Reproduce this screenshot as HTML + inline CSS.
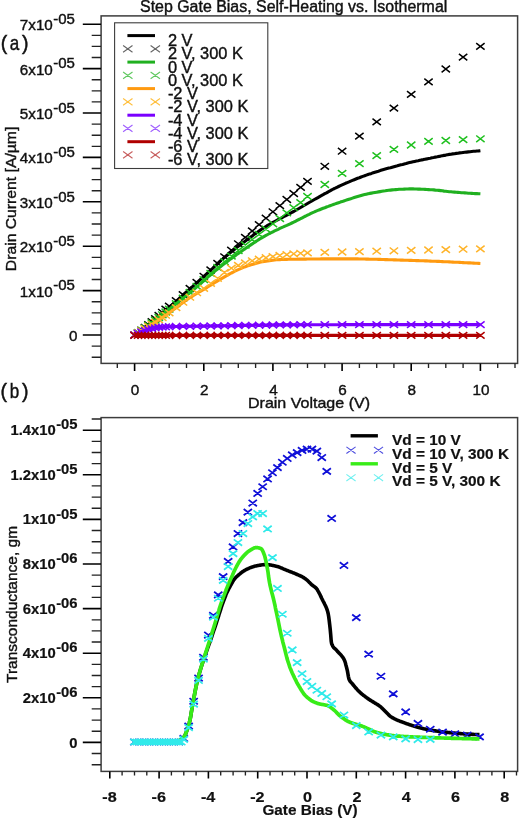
<!DOCTYPE html>
<html><head><meta charset="utf-8"><title>Step Gate Bias, Self-Heating vs. Isothermal</title>
<style>
html,body{margin:0;padding:0;background:#fff;width:520px;height:820px;overflow:hidden}
svg{display:block}
text{stroke:#111;stroke-width:.4px}
g[font-weight=bold] text{stroke-width:.2px}
</style></head><body>
<svg width="520" height="820" viewBox="0 0 520 820">
<rect width="520" height="820" fill="#fff"/>
<rect x="101.1" y="15.9" width="416.5" height="347.5" fill="none" stroke="#3c3c3c" stroke-width="1.5"/>
<path d="M82.8 335.0H101M82.8 290.6H101M82.8 246.2H101M82.8 201.8H101M82.8 157.4H101M82.8 113.0H101M82.8 68.6H101M82.8 24.2H101M134.6 363.5V371M203.8 363.5V371M272.9 363.5V371M342.1 363.5V371M411.2 363.5V371M480.4 363.5V371" stroke="#000" stroke-width="1.6" fill="none"/>
<path d="M91.7 357.2H101M91.7 346.1H101M91.7 323.9H101M91.7 312.8H101M91.7 301.7H101M91.7 279.5H101M91.7 268.4H101M91.7 257.3H101M91.7 235.1H101M91.7 224.0H101M91.7 212.9H101M91.7 190.7H101M91.7 179.6H101M91.7 168.5H101M91.7 146.3H101M91.7 135.2H101M91.7 124.1H101M91.7 101.9H101M91.7 90.8H101M91.7 79.7H101M91.7 57.5H101M91.7 46.4H101M91.7 35.3H101M117.3 363.5V368M151.9 363.5V368M169.2 363.5V368M186.5 363.5V368M221.0 363.5V368M238.3 363.5V368M255.6 363.5V368M290.2 363.5V368M307.5 363.5V368M324.8 363.5V368M359.4 363.5V368M376.7 363.5V368M393.9 363.5V368M428.5 363.5V368M445.8 363.5V368M463.1 363.5V368M497.7 363.5V368M515.0 363.5V368" stroke="#222" stroke-width="1.35" fill="none"/>
<g font-family="Liberation Sans, Arial, sans-serif" fill="#111">
<text x="77.5" y="341.0" font-size="15.2" text-anchor="end">0</text>
<text x="52.8" y="296.6" font-size="15.2" text-anchor="end">1x10</text><text x="53.2" y="290.4" font-size="15">-05</text>
<text x="52.8" y="252.2" font-size="15.2" text-anchor="end">2x10</text><text x="53.2" y="246.0" font-size="15">-05</text>
<text x="52.8" y="207.8" font-size="15.2" text-anchor="end">3x10</text><text x="53.2" y="201.6" font-size="15">-05</text>
<text x="52.8" y="163.4" font-size="15.2" text-anchor="end">4x10</text><text x="53.2" y="157.2" font-size="15">-05</text>
<text x="52.8" y="119.0" font-size="15.2" text-anchor="end">5x10</text><text x="53.2" y="112.8" font-size="15">-05</text>
<text x="52.8" y="74.6" font-size="15.2" text-anchor="end">6x10</text><text x="53.2" y="68.4" font-size="15">-05</text>
<text x="52.8" y="30.2" font-size="15.2" text-anchor="end">7x10</text><text x="53.2" y="24.0" font-size="15">-05</text>
<text x="135.1" y="394.8" font-size="15.3" text-anchor="middle">0</text>
<text x="204.3" y="394.8" font-size="15.3" text-anchor="middle">2</text>
<text x="273.4" y="394.8" font-size="15.3" text-anchor="middle">4</text>
<text x="342.6" y="394.8" font-size="15.3" text-anchor="middle">6</text>
<text x="411.7" y="394.8" font-size="15.3" text-anchor="middle">8</text>
<text x="480.9" y="394.8" font-size="15.3" text-anchor="middle">10</text>
</g>
<text x="140.0" y="12.0" font-family="Liberation Sans, Arial, sans-serif" font-size="15.6" textLength="307.3" lengthAdjust="spacingAndGlyphs" fill="#111">Step Gate Bias, Self-Heating vs. Isothermal</text>
<text x="248.0" y="408.4" font-family="Liberation Sans, Arial, sans-serif" font-size="15.0" textLength="122.0" lengthAdjust="spacingAndGlyphs" fill="#111">Drain Voltage (V)</text>
<text transform="translate(15.8 271.2) rotate(-90)" font-family="Liberation Sans, Arial, sans-serif" font-size="15.5" textLength="144.5" lengthAdjust="spacingAndGlyphs" fill="#111">Drain Current [A/µm]</text>
<g font-family="Liberation Sans, Arial, sans-serif" fill="#111" style="stroke-width:.45px"><text x="0.7" y="49.6" font-size="19.5" style="stroke-width:.45px">(</text><text transform="translate(9.8 49.6) scale(0.85 1)" font-size="20" style="stroke-width:.45px">a</text><text x="22.1" y="49.6" font-size="19.5" style="stroke-width:.45px">)</text></g>
<polyline points="134.6,335.0 136.3,333.7 138.1,332.4 139.8,331.1 141.5,329.8 143.2,328.4 145.0,327.1 146.7,325.8 148.4,324.4 150.2,323.1 151.9,321.7 153.6,320.3 155.3,318.9 157.1,317.5 158.8,316.1 160.5,314.7 162.3,313.3 164.0,311.9 165.7,310.4 167.5,308.9 169.2,307.5 170.9,306.0 172.6,304.5 174.4,302.9 176.1,301.4 177.8,299.8 179.6,298.2 181.3,296.6 183.0,295.1 184.7,293.5 186.5,291.9 188.2,290.4 189.9,288.8 191.7,287.3 193.4,285.8 195.1,284.2 196.8,282.7 198.6,281.2 200.3,279.6 202.0,278.1 203.8,276.5 205.5,275.0 207.2,273.4 208.9,271.8 210.7,270.2 212.4,268.6 214.1,266.9 215.9,265.3 217.6,263.6 219.3,262.0 221.0,260.4 222.8,258.9 224.5,257.4 226.2,256.0 228.0,254.5 229.7,253.1 231.4,251.7 233.2,250.4 234.9,249.0 236.6,247.6 238.3,246.3 240.1,245.0 241.8,243.7 243.5,242.4 245.3,241.1 247.0,239.8 248.7,238.5 250.4,237.2 252.2,235.9 253.9,234.6 255.6,233.4 257.4,232.2 259.1,231.0 260.8,229.8 262.5,228.7 264.3,227.6 266.0,226.5 267.7,225.4 269.5,224.4 271.2,223.4 272.9,222.4 274.6,221.5 276.4,220.5 278.1,219.6 279.8,218.7 281.6,217.8 283.3,216.9 285.0,216.0 286.8,215.1 288.5,214.3 290.2,213.3 291.9,212.4 293.7,211.5 295.4,210.5 297.1,209.5 298.9,208.5 300.6,207.5 302.3,206.5 304.0,205.5 305.8,204.5 307.5,203.5 309.2,202.5 311.0,201.5 312.7,200.5 314.4,199.5 316.1,198.6 317.9,197.6 319.6,196.6 321.3,195.7 323.1,194.7 324.8,193.7 326.5,192.8 328.2,191.8 330.0,190.9 331.7,189.9 333.4,189.0 335.2,188.2 336.9,187.3 338.6,186.5 340.4,185.7 342.1,184.9 343.8,184.1 345.5,183.3 347.3,182.6 349.0,181.9 350.7,181.1 352.5,180.4 354.2,179.7 355.9,179.0 357.6,178.3 359.4,177.7 361.1,177.0 362.8,176.4 364.6,175.8 366.3,175.1 368.0,174.5 369.7,173.9 371.5,173.4 373.2,172.8 374.9,172.2 376.7,171.7 378.4,171.2 380.1,170.6 381.8,170.1 383.6,169.6 385.3,169.1 387.0,168.6 388.8,168.1 390.5,167.7 392.2,167.2 393.9,166.7 395.7,166.2 397.4,165.8 399.1,165.3 400.9,164.8 402.6,164.4 404.3,163.9 406.1,163.5 407.8,163.0 409.5,162.6 411.2,162.2 413.0,161.8 414.7,161.4 416.4,161.0 418.2,160.7 419.9,160.3 421.6,159.9 423.3,159.6 425.1,159.2 426.8,158.9 428.5,158.5 430.3,158.2 432.0,157.8 433.7,157.5 435.4,157.1 437.2,156.8 438.9,156.4 440.6,156.1 442.4,155.7 444.1,155.4 445.8,155.1 447.5,154.7 449.3,154.4 451.0,154.2 452.7,153.9 454.5,153.7 456.2,153.4 457.9,153.2 459.7,152.9 461.4,152.7 463.1,152.5 464.8,152.3 466.6,152.1 468.3,151.9 470.0,151.7 471.8,151.5 473.5,151.3 475.2,151.2 476.9,151.0 478.7,150.9 480.4,150.7" fill="none" stroke="#000000" stroke-width="3.1" stroke-linejoin="round" stroke-linecap="butt"/>
<path d="M130.4 331.7L138.8 338.3M130.4 338.3L138.8 331.7M133.9 329.3L142.3 335.9M133.9 335.9L142.3 329.3M137.3 326.8L145.7 333.4M137.3 333.4L145.7 326.8M140.8 324.2L149.2 330.8M140.8 330.8L149.2 324.2M144.2 321.3L152.6 327.9M144.2 327.9L152.6 321.3M147.7 318.3L156.1 324.9M147.7 324.9L156.1 318.3M151.1 315.3L159.5 321.9M151.1 321.9L159.5 315.3M154.6 312.2L163.0 318.8M154.6 318.8L163.0 312.2M158.1 309.0L166.5 315.6M158.1 315.6L166.5 309.0M161.5 305.8L169.9 312.4M161.5 312.4L169.9 305.8M165.0 302.8L173.4 309.4M165.0 309.4L173.4 302.8M171.9 297.4L180.3 304.0M171.9 304.0L180.3 297.4M178.8 291.3L187.2 297.9M178.8 297.9L187.2 291.3M185.7 285.2L194.1 291.8M185.7 291.8L194.1 285.2M192.6 279.1L201.0 285.7M192.6 285.7L201.0 279.1M199.6 273.0L208.0 279.6M199.6 279.6L208.0 273.0M206.5 266.7L214.9 273.3M206.5 273.3L214.9 266.7M213.4 260.1L221.8 266.7M213.4 266.7L221.8 260.1M220.3 253.5L228.7 260.1M220.3 260.1L228.7 253.5M227.2 246.9L235.6 253.5M227.2 253.5L235.6 246.9M234.1 240.5L242.5 247.1M234.1 247.1L242.5 240.5M241.1 234.1L249.5 240.7M241.1 240.7L249.5 234.1M248.0 227.7L256.4 234.3M248.0 234.3L256.4 227.7M254.9 221.3L263.3 227.9M254.9 227.9L263.3 221.3M261.8 214.9L270.2 221.5M261.8 221.5L270.2 214.9M268.7 208.5L277.1 215.1M268.7 215.1L277.1 208.5M275.6 202.3L284.0 208.9M275.6 208.9L284.0 202.3M282.6 196.2L291.0 202.8M282.6 202.8L291.0 196.2M289.5 190.2L297.9 196.8M289.5 196.8L297.9 190.2M296.4 184.1L304.8 190.7M296.4 190.7L304.8 184.1M303.3 178.1L311.7 184.7M303.3 184.7L311.7 178.1M320.6 163.0L329.0 169.6M320.6 169.6L329.0 163.0M337.9 147.9L346.3 154.5M337.9 154.5L346.3 147.9M355.2 132.8L363.6 139.4M355.2 139.4L363.6 132.8M372.5 118.6L380.9 125.2M372.5 125.2L380.9 118.6M389.7 104.8L398.1 111.4M389.7 111.4L398.1 104.8M407.0 91.1L415.4 97.7M407.0 97.7L415.4 91.1M424.3 78.6L432.7 85.2M424.3 85.2L432.7 78.6M441.6 65.7L450.0 72.3M441.6 72.3L450.0 65.7M458.9 53.8L467.3 60.4M458.9 60.4L467.3 53.8M476.2 43.1L484.6 49.7M476.2 49.7L484.6 43.1" stroke="#000000" stroke-width="1.5" fill="none"/>
<polyline points="134.6,335.0 136.3,333.9 138.1,332.7 139.8,331.5 141.5,330.3 143.2,329.1 145.0,327.9 146.7,326.7 148.4,325.4 150.2,324.1 151.9,322.8 153.6,321.5 155.3,320.2 157.1,318.8 158.8,317.5 160.5,316.1 162.3,314.7 164.0,313.4 165.7,312.0 167.5,310.6 169.2,309.2 170.9,307.9 172.6,306.5 174.4,305.2 176.1,303.8 177.8,302.4 179.6,301.1 181.3,299.7 183.0,298.3 184.7,296.9 186.5,295.5 188.2,294.1 189.9,292.7 191.7,291.3 193.4,289.8 195.1,288.4 196.8,286.9 198.6,285.4 200.3,283.9 202.0,282.3 203.8,280.8 205.5,279.3 207.2,277.7 208.9,276.2 210.7,274.8 212.4,273.3 214.1,271.8 215.9,270.4 217.6,269.0 219.3,267.5 221.0,266.2 222.8,264.8 224.5,263.5 226.2,262.2 228.0,260.9 229.7,259.6 231.4,258.4 233.2,257.1 234.9,255.9 236.6,254.6 238.3,253.4 240.1,252.2 241.8,251.0 243.5,249.8 245.3,248.6 247.0,247.4 248.7,246.2 250.4,245.1 252.2,243.9 253.9,242.7 255.6,241.6 257.4,240.5 259.1,239.4 260.8,238.3 262.5,237.3 264.3,236.3 266.0,235.4 267.7,234.5 269.5,233.5 271.2,232.7 272.9,231.8 274.6,230.9 276.4,230.1 278.1,229.3 279.8,228.4 281.6,227.6 283.3,226.9 285.0,226.1 286.8,225.4 288.5,224.6 290.2,223.8 291.9,223.0 293.7,222.2 295.4,221.3 297.1,220.4 298.9,219.5 300.6,218.7 302.3,217.8 304.0,216.9 305.8,216.0 307.5,215.1 309.2,214.3 311.0,213.4 312.7,212.6 314.4,211.9 316.1,211.1 317.9,210.4 319.6,209.7 321.3,209.0 323.1,208.3 324.8,207.7 326.5,207.0 328.2,206.4 330.0,205.7 331.7,205.1 333.4,204.5 335.2,203.9 336.9,203.3 338.6,202.7 340.4,202.1 342.1,201.6 343.8,201.0 345.5,200.4 347.3,199.8 349.0,199.2 350.7,198.7 352.5,198.1 354.2,197.5 355.9,197.0 357.6,196.5 359.4,196.0 361.1,195.5 362.8,195.0 364.6,194.6 366.3,194.2 368.0,193.8 369.7,193.4 371.5,193.1 373.2,192.8 374.9,192.5 376.7,192.2 378.4,191.9 380.1,191.6 381.8,191.3 383.6,191.0 385.3,190.8 387.0,190.5 388.8,190.3 390.5,190.1 392.2,189.9 393.9,189.7 395.7,189.6 397.4,189.5 399.1,189.3 400.9,189.3 402.6,189.2 404.3,189.1 406.1,189.0 407.8,189.0 409.5,188.9 411.2,188.9 413.0,188.9 414.7,189.0 416.4,189.0 418.2,189.1 419.9,189.1 421.6,189.2 423.3,189.3 425.1,189.4 426.8,189.5 428.5,189.6 430.3,189.7 432.0,189.8 433.7,189.9 435.4,190.1 437.2,190.2 438.9,190.4 440.6,190.6 442.4,190.8 444.1,191.1 445.8,191.3 447.5,191.5 449.3,191.7 451.0,191.8 452.7,192.0 454.5,192.1 456.2,192.3 457.9,192.4 459.7,192.5 461.4,192.7 463.1,192.8 464.8,192.9 466.6,193.0 468.3,193.2 470.0,193.3 471.8,193.4 473.5,193.5 475.2,193.6 476.9,193.6 478.7,193.7 480.4,193.8" fill="none" stroke="#20b020" stroke-width="3.1" stroke-linejoin="round" stroke-linecap="butt"/>
<path d="M130.4 331.7L138.8 338.3M130.4 338.3L138.8 331.7M133.9 329.4L142.3 336.0M133.9 336.0L142.3 329.4M137.3 327.0L145.7 333.6M137.3 333.6L145.7 327.0M140.8 324.6L149.2 331.2M140.8 331.2L149.2 324.6M144.2 322.1L152.6 328.7M144.2 328.7L152.6 322.1M147.7 319.6L156.1 326.2M147.7 326.2L156.1 319.6M151.1 316.9L159.5 323.5M151.1 323.5L159.5 316.9M154.6 314.2L163.0 320.8M154.6 320.8L163.0 314.2M158.1 311.5L166.5 318.1M158.1 318.1L166.5 311.5M161.5 308.7L169.9 315.3M161.5 315.3L169.9 308.7M165.0 305.9L173.4 312.5M165.0 312.5L173.4 305.9M171.9 300.4L180.3 307.0M171.9 307.0L180.3 300.4M178.8 294.9L187.2 301.5M178.8 301.5L187.2 294.9M185.7 289.1L194.1 295.7M185.7 295.7L194.1 289.1M192.6 283.0L201.0 289.6M192.6 289.6L201.0 283.0M199.6 276.4L208.0 283.0M199.6 283.0L208.0 276.4M206.5 270.1L214.9 276.7M206.5 276.7L214.9 270.1M213.4 264.2L221.8 270.8M213.4 270.8L221.8 264.2M220.3 258.4L228.7 265.0M220.3 265.0L228.7 258.4M227.2 252.8L235.6 259.4M227.2 259.4L235.6 252.8M234.1 247.2L242.5 253.8M234.1 253.8L242.5 247.2M241.1 241.7L249.5 248.3M241.1 248.3L249.5 241.7M248.0 236.3L256.4 242.9M248.0 242.9L256.4 236.3M254.9 231.1L263.3 237.7M254.9 237.7L263.3 231.1M261.8 225.8L270.2 232.4M261.8 232.4L270.2 225.8M268.7 220.5L277.1 227.1M268.7 227.1L277.1 220.5M275.6 215.2L284.0 221.8M275.6 221.8L284.0 215.2M282.6 209.6L291.0 216.2M282.6 216.2L291.0 209.6M289.5 204.4L297.9 211.0M289.5 211.0L297.9 204.4M296.4 199.3L304.8 205.9M296.4 205.9L304.8 199.3M303.3 193.2L311.7 199.8M303.3 199.8L311.7 193.2M320.6 181.2L329.0 187.8M320.6 187.8L329.0 181.2M337.9 170.1L346.3 176.7M337.9 176.7L346.3 170.1M355.2 160.3L363.6 166.9M355.2 166.9L363.6 160.3M372.5 152.3L380.9 158.9M372.5 158.9L380.9 152.3M389.7 146.1L398.1 152.7M389.7 152.7L398.1 146.1M407.0 141.7L415.4 148.3M407.0 148.3L415.4 141.7M424.3 138.1L432.7 144.7M424.3 144.7L432.7 138.1M441.6 137.2L450.0 143.8M441.6 143.8L450.0 137.2M458.9 136.3L467.3 142.9M458.9 142.9L467.3 136.3M476.2 135.5L484.6 142.1M476.2 142.1L484.6 135.5" stroke="#20c020" stroke-width="1.5" fill="none"/>
<polyline points="134.6,335.0 136.3,334.0 138.1,332.9 139.8,331.9 141.5,330.8 143.2,329.8 145.0,328.7 146.7,327.6 148.4,326.5 150.2,325.4 151.9,324.3 153.6,323.2 155.3,322.1 157.1,321.0 158.8,319.8 160.5,318.7 162.3,317.5 164.0,316.4 165.7,315.2 167.5,314.0 169.2,312.8 170.9,311.6 172.6,310.3 174.4,309.0 176.1,307.7 177.8,306.4 179.6,305.1 181.3,303.8 183.0,302.5 184.7,301.2 186.5,300.0 188.2,298.8 189.9,297.7 191.7,296.6 193.4,295.5 195.1,294.4 196.8,293.4 198.6,292.3 200.3,291.3 202.0,290.3 203.8,289.3 205.5,288.3 207.2,287.3 208.9,286.2 210.7,285.2 212.4,284.1 214.1,283.0 215.9,282.0 217.6,280.9 219.3,279.9 221.0,278.9 222.8,277.9 224.5,276.9 226.2,275.9 228.0,274.9 229.7,273.9 231.4,273.0 233.2,272.1 234.9,271.2 236.6,270.4 238.3,269.6 240.1,268.9 241.8,268.1 243.5,267.4 245.3,266.8 247.0,266.1 248.7,265.5 250.4,265.0 252.2,264.4 253.9,263.9 255.6,263.4 257.4,263.0 259.1,262.5 260.8,262.1 262.5,261.7 264.3,261.4 266.0,261.1 267.7,260.9 269.5,260.6 271.2,260.4 272.9,260.2 274.6,260.0 276.4,259.8 278.1,259.7 279.8,259.6 281.6,259.5 283.3,259.5 285.0,259.4 286.8,259.4 288.5,259.3 290.2,259.3 291.9,259.2 293.7,259.2 295.4,259.2 297.1,259.2 298.9,259.1 300.6,259.1 302.3,259.1 304.0,259.1 305.8,259.1 307.5,259.0 309.2,259.0 311.0,259.0 312.7,259.0 314.4,259.0 316.1,259.0 317.9,259.0 319.6,259.0 321.3,258.9 323.1,258.9 324.8,258.9 326.5,258.9 328.2,258.9 330.0,258.9 331.7,258.9 333.4,258.9 335.2,258.9 336.9,258.9 338.6,258.9 340.4,258.9 342.1,258.9 343.8,258.9 345.5,258.9 347.3,258.9 349.0,258.9 350.7,258.9 352.5,258.9 354.2,258.9 355.9,258.9 357.6,258.9 359.4,259.0 361.1,259.0 362.8,259.0 364.6,259.0 366.3,259.1 368.0,259.1 369.7,259.2 371.5,259.2 373.2,259.2 374.9,259.3 376.7,259.3 378.4,259.4 380.1,259.4 381.8,259.5 383.6,259.5 385.3,259.6 387.0,259.6 388.8,259.7 390.5,259.7 392.2,259.8 393.9,259.9 395.7,259.9 397.4,260.0 399.1,260.0 400.9,260.1 402.6,260.1 404.3,260.2 406.1,260.2 407.8,260.3 409.5,260.4 411.2,260.4 413.0,260.5 414.7,260.5 416.4,260.6 418.2,260.6 419.9,260.7 421.6,260.8 423.3,260.8 425.1,260.9 426.8,260.9 428.5,261.0 430.3,261.1 432.0,261.2 433.7,261.2 435.4,261.3 437.2,261.4 438.9,261.4 440.6,261.5 442.4,261.6 444.1,261.7 445.8,261.7 447.5,261.8 449.3,261.9 451.0,262.0 452.7,262.1 454.5,262.2 456.2,262.2 457.9,262.3 459.7,262.4 461.4,262.5 463.1,262.6 464.8,262.7 466.6,262.8 468.3,262.9 470.0,262.9 471.8,263.0 473.5,263.1 475.2,263.2 476.9,263.3 478.7,263.4 480.4,263.5" fill="none" stroke="#ff9a10" stroke-width="3.1" stroke-linejoin="round" stroke-linecap="butt"/>
<path d="M130.4 331.7L138.8 338.3M130.4 338.3L138.8 331.7M133.9 329.6L142.3 336.2M133.9 336.2L142.3 329.6M137.3 327.5L145.7 334.1M137.3 334.1L145.7 327.5M140.8 325.4L149.2 332.0M140.8 332.0L149.2 325.4M144.2 323.2L152.6 329.8M144.2 329.8L152.6 323.2M147.7 321.0L156.1 327.6M147.7 327.6L156.1 321.0M151.1 318.8L159.5 325.4M151.1 325.4L159.5 318.8M154.6 316.6L163.0 323.2M154.6 323.2L163.0 316.6M158.1 314.3L166.5 320.9M158.1 320.9L166.5 314.3M161.5 311.9L169.9 318.5M161.5 318.5L169.9 311.9M165.0 309.5L173.4 316.1M165.0 316.1L173.4 309.5M171.9 304.3L180.3 310.9M171.9 310.9L180.3 304.3M178.8 298.9L187.2 305.5M178.8 305.5L187.2 298.9M185.7 293.9L194.1 300.5M185.7 300.5L194.1 293.9M192.6 289.4L201.0 296.0M192.6 296.0L201.0 289.4M199.6 285.0L208.0 291.6M199.6 291.6L208.0 285.0M206.5 280.1L214.9 286.7M206.5 286.7L214.9 280.1M213.4 275.0L221.8 281.6M213.4 281.6L221.8 275.0M220.3 269.2L228.7 275.8M220.3 275.8L228.7 269.2M227.2 264.9L235.6 271.5M227.2 271.5L235.6 264.9M234.1 262.1L242.5 268.7M234.1 268.7L242.5 262.1M241.1 259.7L249.5 266.3M241.1 266.3L249.5 259.7M248.0 257.5L256.4 264.1M248.0 264.1L256.4 257.5M254.9 255.8L263.3 262.4M254.9 262.4L263.3 255.8M261.8 254.4L270.2 261.0M261.8 261.0L270.2 254.4M268.7 253.3L277.1 259.9M268.7 259.9L277.1 253.3M275.6 252.2L284.0 258.8M275.6 258.8L284.0 252.2M282.6 251.3L291.0 257.9M282.6 257.9L291.0 251.3M289.5 250.5L297.9 257.1M289.5 257.1L297.9 250.5M296.4 250.0L304.8 256.6M296.4 256.6L304.8 250.0M303.3 249.6L311.7 256.2M303.3 256.2L311.7 249.6M320.6 249.1L329.0 255.7M320.6 255.7L329.0 249.1M337.9 248.7L346.3 255.3M337.9 255.3L346.3 248.7M355.2 248.3L363.6 254.9M355.2 254.9L363.6 248.3M372.5 247.9L380.9 254.5M372.5 254.5L380.9 247.9M389.7 247.5L398.1 254.1M389.7 254.1L398.1 247.5M407.0 247.1L415.4 253.7M407.0 253.7L415.4 247.1M424.3 246.7L432.7 253.3M424.3 253.3L432.7 246.7M441.6 246.3L450.0 252.9M441.6 252.9L450.0 246.3M458.9 245.9L467.3 252.5M458.9 252.5L467.3 245.9M476.2 245.6L484.6 252.2M476.2 252.2L484.6 245.6" stroke="#ffb42a" stroke-width="1.5" fill="none"/>
<polyline points="134.6,335.0 136.3,334.2 138.1,333.4 139.8,332.6 141.5,331.9 143.2,331.2 145.0,330.6 146.7,330.0 148.4,329.4 150.2,329.0 151.9,328.6 153.6,328.2 155.3,327.9 157.1,327.6 158.8,327.4 160.5,327.2 162.3,327.1 164.0,327.0 165.7,326.9 167.5,326.8 169.2,326.7 170.9,326.7 172.6,326.6 174.4,326.6 176.1,326.5 177.8,326.5 179.6,326.5 181.3,326.4 183.0,326.4 184.7,326.4 186.5,326.3 188.2,326.3 189.9,326.3 191.7,326.2 193.4,326.2 195.1,326.2 196.8,326.2 198.6,326.1 200.3,326.1 202.0,326.1 203.8,326.1 205.5,326.0 207.2,326.0 208.9,326.0 210.7,326.0 212.4,325.9 214.1,325.9 215.9,325.9 217.6,325.9 219.3,325.8 221.0,325.8 222.8,325.8 224.5,325.8 226.2,325.7 228.0,325.7 229.7,325.7 231.4,325.6 233.2,325.6 234.9,325.6 236.6,325.6 238.3,325.5 240.1,325.5 241.8,325.5 243.5,325.5 245.3,325.4 247.0,325.4 248.7,325.4 250.4,325.3 252.2,325.3 253.9,325.3 255.6,325.3 257.4,325.3 259.1,325.2 260.8,325.2 262.5,325.2 264.3,325.2 266.0,325.1 267.7,325.1 269.5,325.1 271.2,325.1 272.9,325.0 274.6,325.0 276.4,325.0 278.1,325.0 279.8,324.9 281.6,324.9 283.3,324.9 285.0,324.9 286.8,324.9 288.5,324.8 290.2,324.8 291.9,324.8 293.7,324.8 295.4,324.8 297.1,324.7 298.9,324.7 300.6,324.7 302.3,324.7 304.0,324.7 305.8,324.7 307.5,324.7 309.2,324.7 311.0,324.7 312.7,324.7 314.4,324.7 316.1,324.7 317.9,324.7 319.6,324.7 321.3,324.7 323.1,324.7 324.8,324.7 326.5,324.7 328.2,324.7 330.0,324.7 331.7,324.7 333.4,324.7 335.2,324.7 336.9,324.7 338.6,324.7 340.4,324.6 342.1,324.6 343.8,324.6 345.5,324.6 347.3,324.6 349.0,324.6 350.7,324.6 352.5,324.6 354.2,324.6 355.9,324.6 357.6,324.6 359.4,324.6 361.1,324.6 362.8,324.6 364.6,324.6 366.3,324.6 368.0,324.6 369.7,324.6 371.5,324.6 373.2,324.6 374.9,324.6 376.7,324.6 378.4,324.6 380.1,324.6 381.8,324.6 383.6,324.6 385.3,324.6 387.0,324.6 388.8,324.6 390.5,324.6 392.2,324.6 393.9,324.6 395.7,324.6 397.4,324.6 399.1,324.6 400.9,324.6 402.6,324.6 404.3,324.6 406.1,324.6 407.8,324.6 409.5,324.6 411.2,324.6 413.0,324.6 414.7,324.6 416.4,324.6 418.2,324.6 419.9,324.6 421.6,324.6 423.3,324.6 425.1,324.6 426.8,324.6 428.5,324.6 430.3,324.6 432.0,324.6 433.7,324.6 435.4,324.6 437.2,324.6 438.9,324.6 440.6,324.6 442.4,324.6 444.1,324.6 445.8,324.6 447.5,324.6 449.3,324.6 451.0,324.6 452.7,324.6 454.5,324.6 456.2,324.6 457.9,324.6 459.7,324.6 461.4,324.6 463.1,324.6 464.8,324.6 466.6,324.6 468.3,324.6 470.0,324.6 471.8,324.6 473.5,324.6 475.2,324.6 476.9,324.6 478.7,324.6 480.4,324.6" fill="none" stroke="#7a00ff" stroke-width="3.1" stroke-linejoin="round" stroke-linecap="butt"/>
<path d="M130.4 331.7L138.8 338.3M130.4 338.3L138.8 331.7M133.9 330.1L142.3 336.7M133.9 336.7L142.3 330.1M137.3 328.6L145.7 335.2M137.3 335.2L145.7 328.6M140.8 327.3L149.2 333.9M140.8 333.9L149.2 327.3M144.2 326.1L152.6 332.8M144.2 332.8L152.6 326.1M147.7 325.3L156.1 331.9M147.7 331.9L156.1 325.3M151.1 324.6L159.5 331.2M151.1 331.2L159.5 324.6M154.6 324.1L163.0 330.7M154.6 330.7L163.0 324.1M158.1 323.8L166.5 330.4M158.1 330.4L166.5 323.8M161.5 323.6L169.9 330.2M161.5 330.2L169.9 323.6M165.0 323.4L173.4 330.0M165.0 330.0L173.4 323.4M171.9 323.2L180.3 329.8M171.9 329.8L180.3 323.2M178.8 323.1L187.2 329.7M178.8 329.7L187.2 323.1M185.7 323.0L194.1 329.6M185.7 329.6L194.1 323.0M192.6 322.9L201.0 329.5M192.6 329.5L201.0 322.9M199.6 322.8L208.0 329.4M199.6 329.4L208.0 322.8M206.5 322.7L214.9 329.3M206.5 329.3L214.9 322.7M213.4 322.6L221.8 329.2M213.4 329.2L221.8 322.6M220.3 322.5L228.7 329.1M220.3 329.1L228.7 322.5M227.2 322.3L235.6 328.9M227.2 328.9L235.6 322.3M234.1 322.2L242.5 328.8M234.1 328.8L242.5 322.2M241.1 322.1L249.5 328.7M241.1 328.7L249.5 322.1M248.0 322.0L256.4 328.6M248.0 328.6L256.4 322.0M254.9 321.9L263.3 328.5M254.9 328.5L263.3 321.9M261.8 321.8L270.2 328.4M261.8 328.4L270.2 321.8M268.7 321.7L277.1 328.3M268.7 328.3L277.1 321.7M275.6 321.6L284.0 328.2M275.6 328.2L284.0 321.6M282.6 321.6L291.0 328.2M282.6 328.2L291.0 321.6M289.5 321.5L297.9 328.1M289.5 328.1L297.9 321.5M296.4 321.4L304.8 328.0M296.4 328.0L304.8 321.4M303.3 321.4L311.7 328.0M303.3 328.0L311.7 321.4M320.6 321.4L329.0 328.0M320.6 328.0L329.0 321.4M337.9 321.3L346.3 327.9M337.9 327.9L346.3 321.3M355.2 321.3L363.6 327.9M355.2 327.9L363.6 321.3M372.5 321.3L380.9 327.9M372.5 327.9L380.9 321.3M389.7 321.3L398.1 327.9M389.7 327.9L398.1 321.3M407.0 321.3L415.4 327.9M407.0 327.9L415.4 321.3M424.3 321.3L432.7 327.9M424.3 327.9L432.7 321.3M441.6 321.3L450.0 327.9M441.6 327.9L450.0 321.3M458.9 321.3L467.3 327.9M458.9 327.9L467.3 321.3M476.2 321.3L484.6 327.9M476.2 327.9L484.6 321.3" stroke="#7a00ff" stroke-width="1.5" fill="none"/>
<polyline points="134.6,335.4 136.3,335.4 138.1,335.4 139.8,335.4 141.5,335.4 143.2,335.4 145.0,335.4 146.7,335.4 148.4,335.4 150.2,335.4 151.9,335.4 153.6,335.4 155.3,335.4 157.1,335.4 158.8,335.4 160.5,335.4 162.3,335.4 164.0,335.4 165.7,335.4 167.5,335.4 169.2,335.4 170.9,335.4 172.6,335.4 174.4,335.4 176.1,335.4 177.8,335.4 179.6,335.4 181.3,335.4 183.0,335.4 184.7,335.4 186.5,335.4 188.2,335.4 189.9,335.4 191.7,335.4 193.4,335.4 195.1,335.4 196.8,335.4 198.6,335.4 200.3,335.4 202.0,335.4 203.8,335.4 205.5,335.4 207.2,335.4 208.9,335.4 210.7,335.4 212.4,335.4 214.1,335.4 215.9,335.4 217.6,335.4 219.3,335.4 221.0,335.4 222.8,335.4 224.5,335.4 226.2,335.4 228.0,335.4 229.7,335.4 231.4,335.4 233.2,335.4 234.9,335.4 236.6,335.4 238.3,335.4 240.1,335.4 241.8,335.4 243.5,335.4 245.3,335.4 247.0,335.4 248.7,335.4 250.4,335.4 252.2,335.4 253.9,335.4 255.6,335.4 257.4,335.4 259.1,335.4 260.8,335.4 262.5,335.4 264.3,335.4 266.0,335.4 267.7,335.4 269.5,335.4 271.2,335.4 272.9,335.4 274.6,335.4 276.4,335.4 278.1,335.4 279.8,335.4 281.6,335.4 283.3,335.4 285.0,335.4 286.8,335.4 288.5,335.4 290.2,335.4 291.9,335.4 293.7,335.4 295.4,335.4 297.1,335.4 298.9,335.4 300.6,335.4 302.3,335.4 304.0,335.4 305.8,335.4 307.5,335.4 309.2,335.4 311.0,335.4 312.7,335.4 314.4,335.4 316.1,335.4 317.9,335.4 319.6,335.4 321.3,335.4 323.1,335.4 324.8,335.4 326.5,335.4 328.2,335.4 330.0,335.4 331.7,335.4 333.4,335.4 335.2,335.4 336.9,335.4 338.6,335.4 340.4,335.4 342.1,335.4 343.8,335.4 345.5,335.4 347.3,335.4 349.0,335.4 350.7,335.4 352.5,335.4 354.2,335.4 355.9,335.4 357.6,335.4 359.4,335.4 361.1,335.4 362.8,335.4 364.6,335.4 366.3,335.4 368.0,335.4 369.7,335.4 371.5,335.4 373.2,335.4 374.9,335.4 376.7,335.4 378.4,335.4 380.1,335.4 381.8,335.4 383.6,335.4 385.3,335.4 387.0,335.4 388.8,335.4 390.5,335.4 392.2,335.4 393.9,335.4 395.7,335.4 397.4,335.4 399.1,335.4 400.9,335.4 402.6,335.4 404.3,335.4 406.1,335.4 407.8,335.4 409.5,335.4 411.2,335.4 413.0,335.4 414.7,335.4 416.4,335.4 418.2,335.4 419.9,335.4 421.6,335.4 423.3,335.4 425.1,335.4 426.8,335.4 428.5,335.4 430.3,335.4 432.0,335.4 433.7,335.4 435.4,335.4 437.2,335.4 438.9,335.4 440.6,335.4 442.4,335.4 444.1,335.4 445.8,335.4 447.5,335.4 449.3,335.4 451.0,335.4 452.7,335.4 454.5,335.4 456.2,335.4 457.9,335.4 459.7,335.4 461.4,335.4 463.1,335.4 464.8,335.4 466.6,335.4 468.3,335.4 470.0,335.4 471.8,335.4 473.5,335.4 475.2,335.4 476.9,335.4 478.7,335.4 480.4,335.4" fill="none" stroke="#b00000" stroke-width="3.1" stroke-linejoin="round" stroke-linecap="butt"/>
<path d="M130.4 332.1L138.8 338.7M130.4 338.7L138.8 332.1M133.9 332.1L142.3 338.7M133.9 338.7L142.3 332.1M137.3 332.1L145.7 338.7M137.3 338.7L145.7 332.1M140.8 332.1L149.2 338.7M140.8 338.7L149.2 332.1M144.2 332.1L152.6 338.7M144.2 338.7L152.6 332.1M147.7 332.1L156.1 338.7M147.7 338.7L156.1 332.1M151.1 332.1L159.5 338.7M151.1 338.7L159.5 332.1M154.6 332.1L163.0 338.7M154.6 338.7L163.0 332.1M158.1 332.1L166.5 338.7M158.1 338.7L166.5 332.1M161.5 332.1L169.9 338.7M161.5 338.7L169.9 332.1M165.0 332.1L173.4 338.7M165.0 338.7L173.4 332.1M171.9 332.1L180.3 338.7M171.9 338.7L180.3 332.1M178.8 332.1L187.2 338.7M178.8 338.7L187.2 332.1M185.7 332.1L194.1 338.7M185.7 338.7L194.1 332.1M192.6 332.1L201.0 338.7M192.6 338.7L201.0 332.1M199.6 332.1L208.0 338.7M199.6 338.7L208.0 332.1M206.5 332.1L214.9 338.7M206.5 338.7L214.9 332.1M213.4 332.1L221.8 338.7M213.4 338.7L221.8 332.1M220.3 332.1L228.7 338.7M220.3 338.7L228.7 332.1M227.2 332.1L235.6 338.7M227.2 338.7L235.6 332.1M234.1 332.1L242.5 338.7M234.1 338.7L242.5 332.1M241.1 332.1L249.5 338.7M241.1 338.7L249.5 332.1M248.0 332.1L256.4 338.7M248.0 338.7L256.4 332.1M254.9 332.1L263.3 338.7M254.9 338.7L263.3 332.1M261.8 332.1L270.2 338.7M261.8 338.7L270.2 332.1M268.7 332.1L277.1 338.7M268.7 338.7L277.1 332.1M275.6 332.1L284.0 338.7M275.6 338.7L284.0 332.1M282.6 332.1L291.0 338.7M282.6 338.7L291.0 332.1M289.5 332.1L297.9 338.7M289.5 338.7L297.9 332.1M296.4 332.1L304.8 338.7M296.4 338.7L304.8 332.1M303.3 332.1L311.7 338.7M303.3 338.7L311.7 332.1M320.6 332.1L329.0 338.7M320.6 338.7L329.0 332.1M337.9 332.1L346.3 338.7M337.9 338.7L346.3 332.1M355.2 332.1L363.6 338.7M355.2 338.7L363.6 332.1M372.5 332.1L380.9 338.7M372.5 338.7L380.9 332.1M389.7 332.1L398.1 338.7M389.7 338.7L398.1 332.1M407.0 332.1L415.4 338.7M407.0 338.7L415.4 332.1M424.3 332.1L432.7 338.7M424.3 338.7L432.7 332.1M441.6 332.1L450.0 338.7M441.6 338.7L450.0 332.1M458.9 332.1L467.3 338.7M458.9 338.7L467.3 332.1M476.2 332.1L484.6 338.7M476.2 338.7L484.6 332.1" stroke="#b00000" stroke-width="1.5" fill="none"/>
<rect x="114.6" y="22.8" width="153.2" height="145.7" fill="#fff" stroke="#3c3c3c" stroke-width="1.1"/>
<g font-family="Liberation Sans, Arial, sans-serif" font-size="16.4" fill="#111">
<path d="M127.4 35.6H155" stroke="#000" stroke-width="3"/>
<text x="167.9" y="46.1">2 V</text>
<path d="M123.1 45.5L132.5 52.3M123.1 52.3L132.5 45.5M150.6 45.5L160.0 52.3M150.6 52.3L160.0 45.5" stroke="#666" stroke-width="1.1" fill="none"/>
<text x="167.9" y="59.4">2 V, 300 K</text>
<path d="M127.4 62.1H155" stroke="#20b020" stroke-width="3"/>
<text x="167.9" y="72.6">0 V</text>
<path d="M123.1 72.0L132.5 78.8M123.1 78.8L132.5 72.0M150.6 72.0L160.0 78.8M150.6 78.8L160.0 72.0" stroke="#60c860" stroke-width="1.1" fill="none"/>
<text x="167.9" y="85.9">0 V, 300 K</text>
<path d="M127.4 88.6H155" stroke="#ff9a10" stroke-width="3"/>
<text x="167.9" y="99.1">-2 V</text>
<path d="M123.1 98.5L132.5 105.3M123.1 105.3L132.5 98.5M150.6 98.5L160.0 105.3M150.6 105.3L160.0 98.5" stroke="#ffc040" stroke-width="1.1" fill="none"/>
<text x="167.9" y="112.4">-2 V, 300 K</text>
<path d="M127.4 115.2H155" stroke="#7a00ff" stroke-width="3"/>
<text x="167.9" y="125.7">-4 V</text>
<path d="M123.1 125.0L132.5 131.8M123.1 131.8L132.5 125.0M150.6 125.0L160.0 131.8M150.6 131.8L160.0 125.0" stroke="#a060ff" stroke-width="1.1" fill="none"/>
<text x="167.9" y="138.9">-4 V, 300 K</text>
<path d="M127.4 141.7H155" stroke="#b00000" stroke-width="3"/>
<text x="167.9" y="152.2">-6 V</text>
<path d="M123.1 151.5L132.5 158.3M123.1 158.3L132.5 151.5M150.6 151.5L160.0 158.3M150.6 158.3L160.0 151.5" stroke="#c86060" stroke-width="1.1" fill="none"/>
<text x="167.9" y="165.4">-6 V, 300 K</text>
</g>
<rect x="101.1" y="417.6" width="416.5" height="353.8" fill="none" stroke="#3c3c3c" stroke-width="1.5"/>
<path d="M82.8 742.4H101M82.8 697.8H101M82.8 653.2H101M82.8 608.6H101M82.8 564.0H101M82.8 519.4H101M82.8 474.8H101M82.8 430.2H101M109.8 771.5V778.5M159.1 771.5V778.5M208.4 771.5V778.5M257.7 771.5V778.5M307.0 771.5V778.5M356.3 771.5V778.5M405.6 771.5V778.5M454.9 771.5V778.5M504.2 771.5V778.5" stroke="#000" stroke-width="1.6" fill="none"/>
<path d="M91.7 764.7H101M91.7 753.5H101M91.7 731.2H101M91.7 720.1H101M91.7 708.9H101M91.7 686.6H101M91.7 675.5H101M91.7 664.4H101M91.7 642.0H101M91.7 630.9H101M91.7 619.8H101M91.7 597.4H101M91.7 586.3H101M91.7 575.1H101M91.7 552.8H101M91.7 541.7H101M91.7 530.5H101M91.7 508.2H101M91.7 497.1H101M91.7 485.9H101M91.7 463.6H101M91.7 452.5H101M91.7 441.3H101M91.7 419.0H101M122.1 771.5V775.6M134.5 771.5V775.6M146.8 771.5V775.6M171.4 771.5V775.6M183.8 771.5V775.6M196.1 771.5V775.6M220.7 771.5V775.6M233.1 771.5V775.6M245.4 771.5V775.6M270.0 771.5V775.6M282.4 771.5V775.6M294.7 771.5V775.6M319.3 771.5V775.6M331.6 771.5V775.6M344.0 771.5V775.6M368.6 771.5V775.6M380.9 771.5V775.6M393.3 771.5V775.6M417.9 771.5V775.6M430.2 771.5V775.6M442.6 771.5V775.6M467.2 771.5V775.6M479.5 771.5V775.6M491.9 771.5V775.6M516.5 771.5V775.6" stroke="#222" stroke-width="1.35" fill="none"/>
<g font-family="Liberation Sans, Arial, sans-serif" font-weight="bold" fill="#111">
<text x="77.5" y="747.7" font-size="14.8" text-anchor="end">0</text>
<text x="55.7" y="702.8" font-size="14.8" text-anchor="end">2x10</text><text x="56.2" y="696.9" font-size="14.8">-06</text>
<text x="55.7" y="658.2" font-size="14.8" text-anchor="end">4x10</text><text x="56.2" y="652.3" font-size="14.8">-06</text>
<text x="55.7" y="613.6" font-size="14.8" text-anchor="end">6x10</text><text x="56.2" y="607.7" font-size="14.8">-06</text>
<text x="55.7" y="569.0" font-size="14.8" text-anchor="end">8x10</text><text x="56.2" y="563.1" font-size="14.8">-06</text>
<text x="55.7" y="524.4" font-size="14.8" text-anchor="end">1x10</text><text x="56.2" y="518.5" font-size="14.8">-05</text>
<text x="55.7" y="479.8" font-size="14.8" text-anchor="end">1.2x10</text><text x="56.2" y="473.9" font-size="14.8">-05</text>
<text x="55.7" y="435.2" font-size="14.8" text-anchor="end">1.4x10</text><text x="56.2" y="429.3" font-size="14.8">-05</text>
<text transform="translate(109.5 801.6) scale(1.13 1)" font-size="14.3" text-anchor="middle">-8</text>
<text transform="translate(158.8 801.6) scale(1.13 1)" font-size="14.3" text-anchor="middle">-6</text>
<text transform="translate(208.1 801.6) scale(1.13 1)" font-size="14.3" text-anchor="middle">-4</text>
<text transform="translate(257.4 801.6) scale(1.13 1)" font-size="14.3" text-anchor="middle">-2</text>
<text transform="translate(307.6 801.6) scale(1.13 1)" font-size="14.3" text-anchor="middle">0</text>
<text transform="translate(356.9 801.6) scale(1.13 1)" font-size="14.3" text-anchor="middle">2</text>
<text transform="translate(406.2 801.6) scale(1.13 1)" font-size="14.3" text-anchor="middle">4</text>
<text transform="translate(455.5 801.6) scale(1.13 1)" font-size="14.3" text-anchor="middle">6</text>
<text transform="translate(504.8 801.6) scale(1.13 1)" font-size="14.3" text-anchor="middle">8</text>
<text x="262.4" y="815" font-size="15.3">Gate Bias (V)</text>
</g>
<text transform="translate(17.2 683) rotate(-90)" font-family="Liberation Sans, Arial, sans-serif" font-size="15.5" fill="#111">Transconductance, gm</text>
<g font-family="Liberation Sans, Arial, sans-serif" fill="#111"><text x="0.6" y="398.4" font-size="19.5" style="stroke-width:.45px">(</text><text transform="translate(9.65 398.4) scale(0.85 1)" font-size="20" style="stroke-width:.45px">b</text><text x="22.1" y="398.4" font-size="19.5" style="stroke-width:.45px">)</text></g>
<polyline points="134.5,742.0 134.9,742.0 135.4,742.0 135.9,742.0 136.4,742.0 136.9,742.0 137.4,742.0 137.9,742.0 138.4,742.0 138.9,742.0 139.4,742.0 139.9,742.0 140.4,742.0 140.9,742.0 141.4,742.0 141.8,742.0 142.3,742.0 142.8,742.0 143.3,742.0 143.8,742.0 144.3,742.0 144.8,742.0 145.3,742.0 145.8,742.0 146.3,742.0 146.8,742.0 147.3,742.0 147.8,742.0 148.3,742.0 148.7,742.0 149.2,742.0 149.7,742.0 150.2,742.0 150.7,742.0 151.2,742.0 151.7,742.0 152.2,742.0 152.7,742.0 153.2,742.0 153.7,742.0 154.2,742.0 154.7,742.0 155.2,742.0 155.6,742.0 156.1,742.0 156.6,742.0 157.1,742.0 157.6,742.0 158.1,742.0 158.6,742.0 159.1,742.0 159.6,742.0 160.1,742.0 160.6,742.0 161.1,742.0 161.6,742.0 162.1,742.0 162.6,742.0 163.0,742.0 163.5,742.0 164.0,742.0 164.5,742.0 165.0,742.0 165.5,742.0 166.0,742.0 166.5,742.0 167.0,742.0 167.5,742.0 168.0,742.0 168.5,742.0 169.0,742.0 169.5,742.0 169.9,742.0 170.4,742.0 170.9,741.9 171.4,741.9 171.9,741.9 172.4,741.8 172.9,741.8 173.4,741.7 173.9,741.7 174.4,741.6 174.9,741.5 175.4,741.5 175.9,741.4 176.4,741.3 176.8,741.2 177.3,741.1 177.8,741.0 178.3,740.8 178.8,740.6 179.3,740.4 179.8,740.2 180.3,739.9 180.8,739.6 181.3,739.3 181.8,738.9 182.3,738.6 182.8,738.2 183.3,737.8 183.8,737.3 184.2,736.6 184.7,735.7 185.2,734.8 185.7,733.7 186.2,732.4 186.7,731.1 187.2,729.7 187.7,728.2 188.2,726.6 188.7,725.0 189.2,723.3 189.7,721.3 190.2,719.0 190.7,716.4 191.1,713.6 191.6,710.7 192.1,707.8 192.6,705.0 193.1,702.3 193.6,699.6 194.1,696.9 194.6,694.1 195.1,691.4 195.6,688.8 196.1,686.3 196.6,684.0 197.1,682.0 197.6,680.0 198.0,678.1 198.5,676.2 199.0,674.5 199.5,672.7 200.0,671.1 200.5,669.4 201.0,667.8 201.5,666.2 202.0,664.6 202.5,663.1 203.0,661.6 203.5,660.2 204.0,658.8 204.5,657.4 204.9,656.0 205.4,654.6 205.9,653.1 206.4,651.7 206.9,650.3 207.4,648.9 207.9,647.5 208.4,646.1 208.9,644.7 209.4,643.3 209.9,641.9 210.4,640.5 210.9,639.1 211.4,637.7 211.9,636.3 212.3,634.9 212.8,633.4 213.3,632.0 213.8,630.5 214.3,629.1 214.8,627.6 215.3,626.1 215.8,624.6 216.3,623.1 216.8,621.5 217.3,620.0 217.8,618.5 218.3,616.9 218.8,615.4 219.2,613.9 219.7,612.4 220.2,610.9 220.7,609.4 221.2,607.8 221.7,606.3 222.2,604.8 222.7,603.4 223.2,602.0 223.7,600.7 224.2,599.3 224.7,598.0 225.2,596.8 225.7,595.5 226.1,594.3 226.6,593.2 227.1,592.1 227.6,591.1 228.1,590.1 228.6,589.1 229.1,588.2 229.6,587.3 230.1,586.4 230.6,585.5 231.1,584.6 231.6,583.7 232.1,582.8 232.6,581.9 233.1,581.1 233.5,580.3 234.0,579.6 234.5,579.0 235.0,578.4 235.5,577.8 236.0,577.3 236.5,576.8 237.0,576.3 237.5,575.9 238.0,575.4 238.5,575.0 239.0,574.6 239.5,574.2 240.0,573.8 240.4,573.4 240.9,573.0 241.4,572.6 241.9,572.2 242.4,571.9 242.9,571.5 243.4,571.2 243.9,570.9 244.4,570.6 244.9,570.3 245.4,570.0 245.9,569.7 246.4,569.5 246.9,569.2 247.3,569.0 247.8,568.8 248.3,568.6 248.8,568.3 249.3,568.1 249.8,567.9 250.3,567.7 250.8,567.5 251.3,567.3 251.8,567.2 252.3,567.0 252.8,566.8 253.3,566.7 253.8,566.5 254.2,566.4 254.7,566.2 255.2,566.1 255.7,566.0 256.2,565.9 256.7,565.8 257.2,565.7 257.7,565.6 258.2,565.5 258.7,565.4 259.2,565.3 259.7,565.2 260.2,565.1 260.7,565.1 261.2,565.0 261.6,564.9 262.1,564.8 262.6,564.8 263.1,564.7 263.6,564.7 264.1,564.6 264.6,564.6 265.1,564.6 265.6,564.6 266.1,564.6 266.6,564.6 267.1,564.6 267.6,564.6 268.1,564.7 268.5,564.7 269.0,564.8 269.5,564.9 270.0,564.9 270.5,565.0 271.0,565.1 271.5,565.2 272.0,565.3 272.5,565.4 273.0,565.5 273.5,565.6 274.0,565.7 274.5,565.8 275.0,565.9 275.4,566.1 275.9,566.2 276.4,566.3 276.9,566.4 277.4,566.5 277.9,566.7 278.4,566.8 278.9,567.0 279.4,567.2 279.9,567.4 280.4,567.6 280.9,567.8 281.4,568.0 281.9,568.2 282.4,568.4 282.8,568.7 283.3,568.9 283.8,569.1 284.3,569.3 284.8,569.5 285.3,569.7 285.8,569.9 286.3,570.1 286.8,570.3 287.3,570.5 287.8,570.7 288.3,570.9 288.8,571.1 289.3,571.3 289.7,571.5 290.2,571.7 290.7,571.8 291.2,572.0 291.7,572.2 292.2,572.4 292.7,572.6 293.2,572.8 293.7,573.0 294.2,573.2 294.7,573.4 295.2,573.6 295.7,573.8 296.2,574.0 296.6,574.3 297.1,574.5 297.6,574.7 298.1,574.9 298.6,575.1 299.1,575.3 299.6,575.5 300.1,575.8 300.6,576.0 301.1,576.2 301.6,576.5 302.1,576.7 302.6,577.0 303.1,577.3 303.5,577.6 304.0,577.9 304.5,578.2 305.0,578.5 305.5,578.9 306.0,579.3 306.5,579.7 307.0,580.1 307.5,580.6 308.0,581.1 308.5,581.6 309.0,582.1 309.5,582.5 310.0,583.0 310.5,583.5 310.9,584.0 311.4,584.4 311.9,584.9 312.4,585.3 312.9,585.6 313.4,586.0 313.9,586.3 314.4,586.7 314.9,587.1 315.4,587.5 315.9,587.9 316.4,588.5 316.9,589.1 317.4,589.8 317.8,590.6 318.3,591.5 318.8,592.4 319.3,593.3 319.8,594.3 320.3,595.3 320.8,596.4 321.3,597.4 321.8,598.5 322.3,599.5 322.8,600.5 323.3,601.5 323.8,602.4 324.3,603.3 324.7,604.2 325.2,605.2 325.7,606.2 326.2,607.4 326.7,608.7 327.2,610.1 327.7,611.8 328.2,613.8 328.7,616.7 329.2,620.5 329.7,624.8 330.2,629.3 330.7,634.6 331.2,641.1 331.6,643.5 332.1,644.8 332.6,645.8 333.1,646.7 333.6,647.4 334.1,647.9 334.6,648.4 335.1,648.8 335.6,649.3 336.1,649.8 336.6,650.3 337.1,650.9 337.6,651.5 338.1,652.1 338.6,652.6 339.0,653.1 339.5,653.6 340.0,654.1 340.5,654.6 341.0,655.1 341.5,655.7 342.0,656.3 342.5,656.9 343.0,657.6 343.5,658.4 344.0,659.3 344.5,660.4 345.0,661.7 345.5,663.3 345.9,665.0 346.4,666.9 346.9,668.8 347.4,670.9 347.9,673.7 348.4,676.6 348.9,678.9 349.4,680.1 349.9,681.0 350.4,681.6 350.9,682.2 351.4,682.7 351.9,683.2 352.4,683.8 352.8,684.4 353.3,685.0 353.8,685.6 354.3,686.2 354.8,686.8 355.3,687.4 355.8,688.0 356.3,688.6 356.8,689.1 357.3,689.7 357.8,690.2 358.3,690.7 358.8,691.2 359.3,691.7 359.8,692.1 360.2,692.6 360.7,693.0 361.2,693.4 361.7,693.9 362.2,694.3 362.7,694.7 363.2,695.1 363.7,695.5 364.2,695.8 364.7,696.2 365.2,696.6 365.7,697.0 366.2,697.3 366.7,697.7 367.1,698.0 367.6,698.4 368.1,698.8 368.6,699.1 369.1,699.4 369.6,699.8 370.1,700.1 370.6,700.4 371.1,700.7 371.6,701.0 372.1,701.3 372.6,701.6 373.1,701.9 373.6,702.2 374.0,702.5 374.5,702.8 375.0,703.1 375.5,703.4 376.0,703.7 376.5,704.0 377.0,704.3 377.5,704.6 378.0,704.9 378.5,705.3 379.0,705.6 379.5,706.0 380.0,706.3 380.5,706.7 380.9,707.1 381.4,707.6 381.9,708.0 382.4,708.5 382.9,709.0 383.4,709.5 383.9,710.0 384.4,710.5 384.9,711.0 385.4,711.5 385.9,712.0 386.4,712.5 386.9,713.0 387.4,713.5 387.9,714.0 388.3,714.5 388.8,715.0 389.3,715.4 389.8,715.9 390.3,716.3 390.8,716.7 391.3,717.0 391.8,717.3 392.3,717.6 392.8,717.9 393.3,718.2 393.8,718.4 394.3,718.7 394.8,719.0 395.2,719.2 395.7,719.4 396.2,719.7 396.7,719.9 397.2,720.1 397.7,720.3 398.2,720.5 398.7,720.7 399.2,720.9 399.7,721.1 400.2,721.3 400.7,721.5 401.2,721.7 401.7,721.8 402.1,722.0 402.6,722.2 403.1,722.4 403.6,722.6 404.1,722.7 404.6,722.9 405.1,723.1 405.6,723.3 406.1,723.5 406.6,723.6 407.1,723.8 407.6,724.0 408.1,724.1 408.6,724.3 409.1,724.5 409.5,724.7 410.0,724.8 410.5,725.0 411.0,725.1 411.5,725.3 412.0,725.5 412.5,725.6 413.0,725.8 413.5,725.9 414.0,726.1 414.5,726.3 415.0,726.4 415.5,726.6 416.0,726.7 416.4,726.9 416.9,727.0 417.4,727.1 417.9,727.3 418.4,727.4 418.9,727.6 419.4,727.7 419.9,727.8 420.4,727.9 420.9,728.1 421.4,728.2 421.9,728.3 422.4,728.4 422.9,728.6 423.3,728.7 423.8,728.8 424.3,728.9 424.8,729.0 425.3,729.1 425.8,729.2 426.3,729.3 426.8,729.4 427.3,729.5 427.8,729.6 428.3,729.7 428.8,729.8 429.3,729.9 429.8,729.9 430.2,730.0 430.7,730.1 431.2,730.2 431.7,730.3 432.2,730.4 432.7,730.5 433.2,730.5 433.7,730.6 434.2,730.7 434.7,730.8 435.2,730.9 435.7,730.9 436.2,731.0 436.7,731.1 437.2,731.2 437.6,731.2 438.1,731.3 438.6,731.4 439.1,731.4 439.6,731.5 440.1,731.6 440.6,731.6 441.1,731.7 441.6,731.8 442.1,731.8 442.6,731.9 443.1,732.0 443.6,732.0 444.1,732.1 444.5,732.1 445.0,732.2 445.5,732.2 446.0,732.3 446.5,732.3 447.0,732.4 447.5,732.4 448.0,732.5 448.5,732.5 449.0,732.6 449.5,732.6 450.0,732.7 450.5,732.7 451.0,732.8 451.4,732.8 451.9,732.9 452.4,732.9 452.9,733.0 453.4,733.0 453.9,733.0 454.4,733.1 454.9,733.1 455.4,733.2 455.9,733.2 456.4,733.3 456.9,733.3 457.4,733.3 457.9,733.4 458.4,733.4 458.8,733.5 459.3,733.5 459.8,733.5 460.3,733.6 460.8,733.6 461.3,733.7 461.8,733.7 462.3,733.7 462.8,733.8 463.3,733.8 463.8,733.9 464.3,733.9 464.8,733.9 465.3,734.0 465.7,734.0 466.2,734.0 466.7,734.1 467.2,734.1 467.7,734.1 468.2,734.1 468.7,734.2 469.2,734.2 469.7,734.2 470.2,734.3 470.7,734.3 471.2,734.3 471.7,734.3 472.2,734.4 472.6,734.4 473.1,734.4 473.6,734.4 474.1,734.5 474.6,734.5 475.1,734.5 475.6,734.5 476.1,734.5 476.6,734.6 477.1,734.6 477.6,734.6 478.1,734.6 478.6,734.6 479.1,734.6 479.5,734.6" fill="none" stroke="#000" stroke-width="3.6" stroke-linejoin="round" stroke-linecap="butt"/>
<path d="M130.3 738.9L138.6 745.1M130.3 745.1L138.6 738.9M135.2 738.9L143.5 745.1M135.2 745.1L143.5 738.9M140.2 738.9L148.5 745.1M140.2 745.1L148.5 738.9M145.1 738.9L153.4 745.1M145.1 745.1L153.4 738.9M150.0 738.9L158.3 745.1M150.0 745.1L158.3 738.9M155.0 738.9L163.3 745.1M155.0 745.1L163.3 738.9M159.9 738.9L168.2 745.1M159.9 745.1L168.2 738.9M164.8 738.9L173.1 745.1M164.8 745.1L173.1 738.9M169.7 738.9L178.0 745.1M169.7 745.1L178.0 738.9M174.7 738.9L183.0 745.1M174.7 745.1L183.0 738.9M179.6 735.3L187.9 741.6M179.6 741.6L187.9 735.3M184.5 723.0L192.8 729.3M184.5 729.3L192.8 723.0M189.5 698.1L197.8 704.4M189.5 704.4L197.8 698.1M194.4 674.9L202.7 681.2M194.4 681.2L202.7 674.9M199.3 654.1L207.6 660.4M199.3 660.4L207.6 654.1M204.2 631.9L212.6 638.2M204.2 638.2L212.6 631.9M209.2 612.2L217.5 618.5M209.2 618.5L217.5 612.2M214.1 591.7L222.4 598.0M214.1 598.0L222.4 591.7M219.0 573.5L227.3 579.8M219.0 579.8L227.3 573.5M224.0 558.3L232.3 564.6M224.0 564.6L232.3 558.3M228.9 543.8L237.2 550.1M228.9 550.1L237.2 543.8M233.8 530.4L242.1 536.7M233.8 536.7L242.1 530.4M238.8 519.5L247.1 525.8M238.8 525.8L247.1 519.5M243.7 509.0L252.0 515.3M243.7 515.3L252.0 509.0M248.6 499.9L256.9 506.2M248.6 506.2L256.9 499.9M253.5 490.3L261.8 496.6M253.5 496.6L261.8 490.3M258.5 483.6L266.8 489.9M258.5 489.9L266.8 483.6M263.4 475.8L271.7 482.1M263.4 482.1L271.7 475.8M268.3 469.6L276.6 475.9M268.3 475.9L276.6 469.6M273.3 464.5L281.6 470.8M273.3 470.8L281.6 464.5M278.2 459.1L286.5 465.4M278.2 465.4L286.5 459.1M283.1 455.3L291.4 461.6M283.1 461.6L291.4 455.3M288.1 451.8L296.4 458.1M288.1 458.1L296.4 451.8M293.0 449.5L301.3 455.8M293.0 455.8L301.3 449.5M297.9 447.3L306.2 453.6M297.9 453.6L306.2 447.3M302.9 446.0L311.1 452.3M302.9 452.3L311.1 446.0M307.8 446.0L316.1 452.3M307.8 452.3L316.1 446.0M312.7 448.0L321.0 454.3M312.7 454.3L321.0 448.0M317.6 454.4L325.9 460.7M317.6 460.7L325.9 454.4M322.6 468.2L330.9 474.5M322.6 474.5L330.9 468.2M327.5 515.3L335.8 521.6M327.5 521.6L335.8 515.3M339.8 562.3L348.1 568.6M339.8 568.6L348.1 562.3M352.2 614.5L360.4 620.8M352.2 620.8L360.4 614.5M364.5 651.0L372.8 657.3M364.5 657.3L372.8 651.0M376.8 673.1L385.1 679.4M376.8 679.4L385.1 673.1M389.1 690.7L397.4 697.0M389.1 697.0L397.4 690.7M401.5 708.8L409.8 715.1M401.5 715.1L409.8 708.8M413.8 720.3L422.1 726.6M413.8 726.6L422.1 720.3M426.1 726.1L434.4 732.4M426.1 732.4L434.4 726.1M438.4 729.0L446.7 735.3M438.4 735.3L446.7 729.0M450.8 730.6L459.0 736.9M450.8 736.9L459.0 730.6M463.1 731.9L471.4 738.2M463.1 738.2L471.4 731.9M475.4 733.7L483.7 740.0M475.4 740.0L483.7 733.7" stroke="#1010d8" stroke-width="1.8" fill="none"/>
<polyline points="134.5,742.0 134.9,742.0 135.4,742.0 135.9,742.0 136.4,742.0 136.9,742.0 137.4,742.0 137.9,742.0 138.4,742.0 138.9,742.0 139.4,742.0 139.9,742.0 140.4,742.0 140.9,742.0 141.4,742.0 141.8,742.0 142.3,742.0 142.8,742.0 143.3,742.0 143.8,742.0 144.3,742.0 144.8,742.0 145.3,742.0 145.8,742.0 146.3,742.0 146.8,742.0 147.3,742.0 147.8,742.0 148.3,742.0 148.7,742.0 149.2,742.0 149.7,742.0 150.2,742.0 150.7,742.0 151.2,742.0 151.7,742.0 152.2,742.0 152.7,742.0 153.2,742.0 153.7,742.0 154.2,742.0 154.7,742.0 155.2,742.0 155.6,742.0 156.1,742.0 156.6,742.0 157.1,742.0 157.6,742.0 158.1,742.0 158.6,742.0 159.1,742.0 159.6,742.0 160.1,742.0 160.6,742.0 161.1,742.0 161.6,742.0 162.1,742.0 162.6,742.0 163.0,742.0 163.5,742.0 164.0,742.0 164.5,742.0 165.0,742.0 165.5,742.0 166.0,742.0 166.5,742.0 167.0,742.0 167.5,742.0 168.0,742.0 168.5,742.0 169.0,742.0 169.5,742.0 169.9,742.0 170.4,742.0 170.9,741.9 171.4,741.9 171.9,741.9 172.4,741.8 172.9,741.8 173.4,741.7 173.9,741.7 174.4,741.6 174.9,741.5 175.4,741.5 175.9,741.4 176.4,741.3 176.8,741.2 177.3,741.1 177.8,741.0 178.3,740.8 178.8,740.6 179.3,740.4 179.8,740.2 180.3,739.9 180.8,739.6 181.3,739.3 181.8,738.9 182.3,738.6 182.8,738.2 183.3,737.8 183.8,737.3 184.2,736.6 184.7,735.7 185.2,734.8 185.7,733.7 186.2,732.4 186.7,731.1 187.2,729.7 187.7,728.2 188.2,726.6 188.7,725.0 189.2,723.3 189.7,721.3 190.2,719.0 190.7,716.4 191.1,713.6 191.6,710.7 192.1,707.8 192.6,705.0 193.1,702.3 193.6,699.6 194.1,696.9 194.6,694.1 195.1,691.4 195.6,688.8 196.1,686.3 196.6,684.0 197.1,681.9 197.6,679.9 198.0,678.0 198.5,676.2 199.0,674.4 199.5,672.7 200.0,671.0 200.5,669.3 201.0,667.6 201.5,666.0 202.0,664.4 202.5,662.8 203.0,661.2 203.5,659.7 204.0,658.2 204.5,656.7 204.9,655.2 205.4,653.7 205.9,652.1 206.4,650.6 206.9,649.1 207.4,647.5 207.9,646.0 208.4,644.4 208.9,642.9 209.4,641.3 209.9,639.8 210.4,638.2 210.9,636.6 211.4,635.1 211.9,633.5 212.3,631.9 212.8,630.4 213.3,628.8 213.8,627.2 214.3,625.6 214.8,624.0 215.3,622.3 215.8,620.7 216.3,619.0 216.8,617.3 217.3,615.6 217.8,614.0 218.3,612.3 218.8,610.7 219.2,609.1 219.7,607.5 220.2,606.0 220.7,604.5 221.2,603.1 221.7,601.7 222.2,600.3 222.7,598.9 223.2,597.6 223.7,596.2 224.2,594.9 224.7,593.6 225.2,592.3 225.7,591.1 226.1,589.8 226.6,588.6 227.1,587.4 227.6,586.2 228.1,585.0 228.6,583.8 229.1,582.6 229.6,581.5 230.1,580.4 230.6,579.3 231.1,578.2 231.6,577.1 232.1,576.0 232.6,574.9 233.1,573.8 233.5,572.7 234.0,571.6 234.5,570.6 235.0,569.5 235.5,568.5 236.0,567.5 236.5,566.5 237.0,565.6 237.5,564.7 238.0,563.8 238.5,562.9 239.0,562.1 239.5,561.3 240.0,560.6 240.4,559.9 240.9,559.2 241.4,558.6 241.9,558.0 242.4,557.4 242.9,556.8 243.4,556.2 243.9,555.6 244.4,555.1 244.9,554.6 245.4,554.1 245.9,553.6 246.4,553.1 246.9,552.7 247.3,552.3 247.8,551.9 248.3,551.5 248.8,551.2 249.3,550.9 249.8,550.5 250.3,550.2 250.8,549.9 251.3,549.6 251.8,549.2 252.3,549.0 252.8,548.7 253.3,548.4 253.8,548.2 254.2,548.0 254.7,547.8 255.2,547.7 255.7,547.7 256.2,547.6 256.7,547.6 257.2,547.7 257.7,547.7 258.2,547.8 258.7,547.9 259.2,548.0 259.7,548.2 260.2,548.4 260.7,548.5 261.2,548.7 261.6,549.1 262.1,549.8 262.6,550.7 263.1,551.8 263.6,553.0 264.1,554.3 264.6,555.7 265.1,557.5 265.6,559.6 266.1,561.9 266.6,564.5 267.1,567.1 267.6,569.7 268.1,572.8 268.5,576.1 269.0,579.4 269.5,582.4 270.0,585.0 270.5,587.2 271.0,589.3 271.5,591.3 272.0,593.2 272.5,595.0 273.0,597.0 273.5,599.0 274.0,601.1 274.5,603.3 275.0,605.5 275.4,607.8 275.9,610.1 276.4,612.4 276.9,614.7 277.4,617.0 277.9,619.4 278.4,621.9 278.9,624.4 279.4,626.9 279.9,629.3 280.4,631.7 280.9,633.9 281.4,636.1 281.9,638.1 282.4,640.0 282.8,641.9 283.3,643.7 283.8,645.6 284.3,647.5 284.8,649.5 285.3,651.5 285.8,653.6 286.3,655.6 286.8,657.6 287.3,659.4 287.8,661.0 288.3,662.5 288.8,664.0 289.3,665.4 289.7,666.8 290.2,668.1 290.7,669.3 291.2,670.6 291.7,671.7 292.2,672.9 292.7,674.0 293.2,675.1 293.7,676.2 294.2,677.2 294.7,678.3 295.2,679.2 295.7,680.2 296.2,681.2 296.6,682.1 297.1,683.0 297.6,683.9 298.1,684.8 298.6,685.6 299.1,686.4 299.6,687.3 300.1,688.1 300.6,688.9 301.1,689.8 301.6,690.5 302.1,691.3 302.6,692.0 303.1,692.8 303.5,693.4 304.0,694.1 304.5,694.6 305.0,695.2 305.5,695.7 306.0,696.2 306.5,696.7 307.0,697.1 307.5,697.6 308.0,698.0 308.5,698.4 309.0,698.8 309.5,699.2 310.0,699.6 310.5,699.9 310.9,700.3 311.4,700.6 311.9,700.9 312.4,701.2 312.9,701.4 313.4,701.7 313.9,701.9 314.4,702.1 314.9,702.4 315.4,702.6 315.9,702.8 316.4,702.9 316.9,703.1 317.4,703.3 317.8,703.5 318.3,703.6 318.8,703.7 319.3,703.9 319.8,704.0 320.3,704.1 320.8,704.2 321.3,704.3 321.8,704.4 322.3,704.5 322.8,704.5 323.3,704.6 323.8,704.7 324.3,704.8 324.7,704.9 325.2,705.0 325.7,705.1 326.2,705.2 326.7,705.3 327.2,705.4 327.7,705.6 328.2,705.8 328.7,706.1 329.2,706.4 329.7,706.7 330.2,707.0 330.7,707.4 331.2,707.7 331.6,708.1 332.1,708.5 332.6,708.9 333.1,709.3 333.6,709.7 334.1,710.1 334.6,710.5 335.1,711.0 335.6,711.5 336.1,712.0 336.6,712.6 337.1,713.1 337.6,713.6 338.1,714.1 338.6,714.6 339.0,715.1 339.5,715.5 340.0,715.9 340.5,716.3 341.0,716.7 341.5,717.1 342.0,717.4 342.5,717.8 343.0,718.2 343.5,718.5 344.0,718.9 344.5,719.2 345.0,719.6 345.5,719.9 345.9,720.2 346.4,720.5 346.9,720.8 347.4,721.1 347.9,721.3 348.4,721.6 348.9,721.8 349.4,722.0 349.9,722.3 350.4,722.5 350.9,722.6 351.4,722.8 351.9,723.0 352.4,723.2 352.8,723.3 353.3,723.5 353.8,723.6 354.3,723.8 354.8,723.9 355.3,724.1 355.8,724.2 356.3,724.4 356.8,724.5 357.3,724.6 357.8,724.8 358.3,724.9 358.8,725.1 359.3,725.2 359.8,725.4 360.2,725.5 360.7,725.7 361.2,725.8 361.7,726.0 362.2,726.2 362.7,726.4 363.2,726.6 363.7,726.8 364.2,727.0 364.7,727.2 365.2,727.4 365.7,727.6 366.2,727.8 366.7,728.1 367.1,728.3 367.6,728.6 368.1,728.8 368.6,729.0 369.1,729.3 369.6,729.5 370.1,729.7 370.6,730.0 371.1,730.2 371.6,730.4 372.1,730.7 372.6,730.9 373.1,731.1 373.6,731.3 374.0,731.5 374.5,731.7 375.0,731.9 375.5,732.0 376.0,732.2 376.5,732.4 377.0,732.5 377.5,732.6 378.0,732.8 378.5,732.9 379.0,733.0 379.5,733.1 380.0,733.2 380.5,733.4 380.9,733.5 381.4,733.6 381.9,733.7 382.4,733.8 382.9,733.9 383.4,734.0 383.9,734.1 384.4,734.2 384.9,734.3 385.4,734.4 385.9,734.5 386.4,734.6 386.9,734.7 387.4,734.8 387.9,734.9 388.3,734.9 388.8,735.0 389.3,735.1 389.8,735.2 390.3,735.2 390.8,735.3 391.3,735.4 391.8,735.5 392.3,735.5 392.8,735.6 393.3,735.6 393.8,735.7 394.3,735.8 394.8,735.8 395.2,735.9 395.7,735.9 396.2,735.9 396.7,736.0 397.2,736.0 397.7,736.1 398.2,736.1 398.7,736.1 399.2,736.2 399.7,736.2 400.2,736.2 400.7,736.3 401.2,736.3 401.7,736.3 402.1,736.4 402.6,736.4 403.1,736.4 403.6,736.5 404.1,736.5 404.6,736.5 405.1,736.6 405.6,736.6 406.1,736.6 406.6,736.6 407.1,736.7 407.6,736.7 408.1,736.7 408.6,736.7 409.1,736.8 409.5,736.8 410.0,736.8 410.5,736.8 411.0,736.9 411.5,736.9 412.0,736.9 412.5,736.9 413.0,737.0 413.5,737.0 414.0,737.0 414.5,737.0 415.0,737.0 415.5,737.1 416.0,737.1 416.4,737.1 416.9,737.1 417.4,737.2 417.9,737.2 418.4,737.2 418.9,737.2 419.4,737.2 419.9,737.2 420.4,737.3 420.9,737.3 421.4,737.3 421.9,737.3 422.4,737.3 422.9,737.4 423.3,737.4 423.8,737.4 424.3,737.4 424.8,737.4 425.3,737.4 425.8,737.5 426.3,737.5 426.8,737.5 427.3,737.5 427.8,737.5 428.3,737.5 428.8,737.6 429.3,737.6 429.8,737.6 430.2,737.6 430.7,737.6 431.2,737.6 431.7,737.7 432.2,737.7 432.7,737.7 433.2,737.7 433.7,737.7 434.2,737.7 434.7,737.7 435.2,737.8 435.7,737.8 436.2,737.8 436.7,737.8 437.2,737.8 437.6,737.8 438.1,737.9 438.6,737.9 439.1,737.9 439.6,737.9 440.1,737.9 440.6,737.9 441.1,738.0 441.6,738.0 442.1,738.0 442.6,738.0 443.1,738.0 443.6,738.0 444.1,738.0 444.5,738.1 445.0,738.1 445.5,738.1 446.0,738.1 446.5,738.1 447.0,738.1 447.5,738.2 448.0,738.2 448.5,738.2 449.0,738.2 449.5,738.2 450.0,738.2 450.5,738.2 451.0,738.3 451.4,738.3 451.9,738.3 452.4,738.3 452.9,738.3 453.4,738.3 453.9,738.3 454.4,738.3 454.9,738.4 455.4,738.4 455.9,738.4 456.4,738.4 456.9,738.4 457.4,738.4 457.9,738.4 458.4,738.5 458.8,738.5 459.3,738.5 459.8,738.5 460.3,738.5 460.8,738.5 461.3,738.5 461.8,738.5 462.3,738.6 462.8,738.6 463.3,738.6 463.8,738.6 464.3,738.6 464.8,738.6 465.3,738.6 465.7,738.6 466.2,738.6 466.7,738.7 467.2,738.7 467.7,738.7 468.2,738.7 468.7,738.7 469.2,738.7 469.7,738.7 470.2,738.7 470.7,738.7 471.2,738.7 471.7,738.8 472.2,738.8 472.6,738.8 473.1,738.8 473.6,738.8 474.1,738.8 474.6,738.8 475.1,738.8 475.6,738.8 476.1,738.8 476.6,738.8 477.1,738.8 477.6,738.9 478.1,738.9 478.6,738.9 479.1,738.9 479.5,738.9" fill="none" stroke="#38ec18" stroke-width="3.7" stroke-linejoin="round" stroke-linecap="butt"/>
<path d="M130.3 738.9L138.6 745.1M130.3 745.1L138.6 738.9M132.8 738.9L141.1 745.1M132.8 745.1L141.1 738.9M135.2 738.9L143.5 745.1M135.2 745.1L143.5 738.9M137.7 738.9L146.0 745.1M137.7 745.1L146.0 738.9M140.2 738.9L148.5 745.1M140.2 745.1L148.5 738.9M142.6 738.9L150.9 745.1M142.6 745.1L150.9 738.9M145.1 738.9L153.4 745.1M145.1 745.1L153.4 738.9M147.6 738.9L155.9 745.1M147.6 745.1L155.9 738.9M150.0 738.9L158.3 745.1M150.0 745.1L158.3 738.9M152.5 738.9L160.8 745.1M152.5 745.1L160.8 738.9M155.0 738.9L163.3 745.1M155.0 745.1L163.3 738.9M157.4 738.9L165.7 745.1M157.4 745.1L165.7 738.9M159.9 738.9L168.2 745.1M159.9 745.1L168.2 738.9M162.3 738.9L170.6 745.1M162.3 745.1L170.6 738.9M164.8 738.9L173.1 745.1M164.8 745.1L173.1 738.9M167.3 738.9L175.6 745.1M167.3 745.1L175.6 738.9M169.7 738.9L178.0 745.1M169.7 745.1L178.0 738.9M172.2 738.9L180.5 745.1M172.2 745.1L180.5 738.9M174.7 738.9L183.0 745.1M174.7 745.1L183.0 738.9M177.1 738.9L185.4 745.1M177.1 745.1L185.4 738.9M179.6 736.2L187.9 742.5M179.6 742.5L187.9 736.2M184.5 724.4L192.8 730.7M184.5 730.7L192.8 724.4M189.5 701.0L197.8 707.3M189.5 707.3L197.8 701.0M194.4 677.3L202.7 683.6M194.4 683.6L202.7 677.3M199.3 655.9L207.6 662.2M199.3 662.2L207.6 655.9M204.2 635.2L212.6 641.5M204.2 641.5L212.6 635.2M209.2 614.0L217.5 620.3M209.2 620.3L217.5 614.0M214.1 595.1L222.4 601.4M214.1 601.4L222.4 595.1M219.0 577.2L227.3 583.5M219.0 583.5L227.3 577.2M224.0 563.4L232.3 569.7M224.0 569.7L232.3 563.4M228.9 550.5L237.2 556.8M228.9 556.8L237.2 550.5M233.8 539.4L242.1 545.7M233.8 545.7L242.1 539.4M238.8 530.4L247.1 536.7M238.8 536.7L247.1 530.4M243.7 520.4L252.0 526.7M243.7 526.7L252.0 520.4M248.6 513.7L256.9 520.0M248.6 520.0L256.9 513.7M253.5 510.4L261.8 516.7M253.5 516.7L261.8 510.4M258.5 510.4L266.8 516.7M258.5 516.7L266.8 510.4M263.4 525.8L271.7 532.1M263.4 532.1L271.7 525.8M268.3 554.5L276.6 560.8M268.3 560.8L276.6 554.5M273.3 585.3L281.6 591.6M273.3 591.6L281.6 585.3M278.2 611.1L286.5 617.4M278.2 617.4L286.5 611.1M283.1 630.1L291.4 636.4M283.1 636.4L291.4 630.1M288.1 646.8L296.4 653.1M288.1 653.1L296.4 646.8M293.0 659.5L301.3 665.8M293.0 665.8L301.3 659.5M297.9 670.6L306.2 676.9M297.9 676.9L306.2 670.6M302.9 678.4L311.1 684.7M302.9 684.7L311.1 678.4M307.8 683.1L316.1 689.4M307.8 689.4L316.1 683.1M312.7 687.1L321.0 693.4M312.7 693.4L321.0 687.1M317.6 690.3L325.9 696.6M317.6 696.6L325.9 690.3M322.6 693.6L330.9 699.9M322.6 699.9L330.9 693.6M327.5 700.7L335.8 707.0M327.5 707.0L335.8 700.7M339.8 711.9L348.1 718.2M339.8 718.2L348.1 711.9M352.2 722.4L360.4 728.7M352.2 728.7L360.4 722.4M364.5 728.8L372.8 735.1M364.5 735.1L372.8 728.8M376.8 731.9L385.1 738.2M376.8 738.2L385.1 731.9M389.1 733.7L397.4 740.0M389.1 740.0L397.4 733.7M401.5 735.7L409.8 742.0M401.5 742.0L409.8 735.7M413.8 736.4L422.1 742.7M413.8 742.7L422.1 736.4M426.1 736.2L434.4 742.5M426.1 742.5L434.4 736.2" stroke="#30eaea" stroke-width="1.8" fill="none"/>
<path d="M350.6 435.8H377.9" stroke="#000" stroke-width="3.4"/>
<path d="M346.4 446.9L355.6 453.5M346.4 453.5L355.6 446.9M373.9 446.9L383.1 453.5M373.9 453.5L383.1 446.9" stroke="#5050e0" stroke-width="1.1" fill="none"/>
<path d="M350.6 463.8H377.9" stroke="#38ec18" stroke-width="3.4"/>
<path d="M346.4 474.4L355.6 481.0M346.4 481.0L355.6 474.4M373.9 474.4L383.1 481.0M373.9 481.0L383.1 474.4" stroke="#70f0f0" stroke-width="1.1" fill="none"/>
<g font-family="Liberation Sans, Arial, sans-serif" font-weight="bold" font-size="15.4" fill="#111">
<text x="392.0" y="445.0">Vd = 10 V</text>
<text x="392.0" y="458.8">Vd = 10 V, 300 K</text>
<text x="392.0" y="472.6">Vd = 5 V</text>
<text x="392.0" y="486.4">Vd = 5 V, 300 K</text>
</g>
</svg>
</body></html>
